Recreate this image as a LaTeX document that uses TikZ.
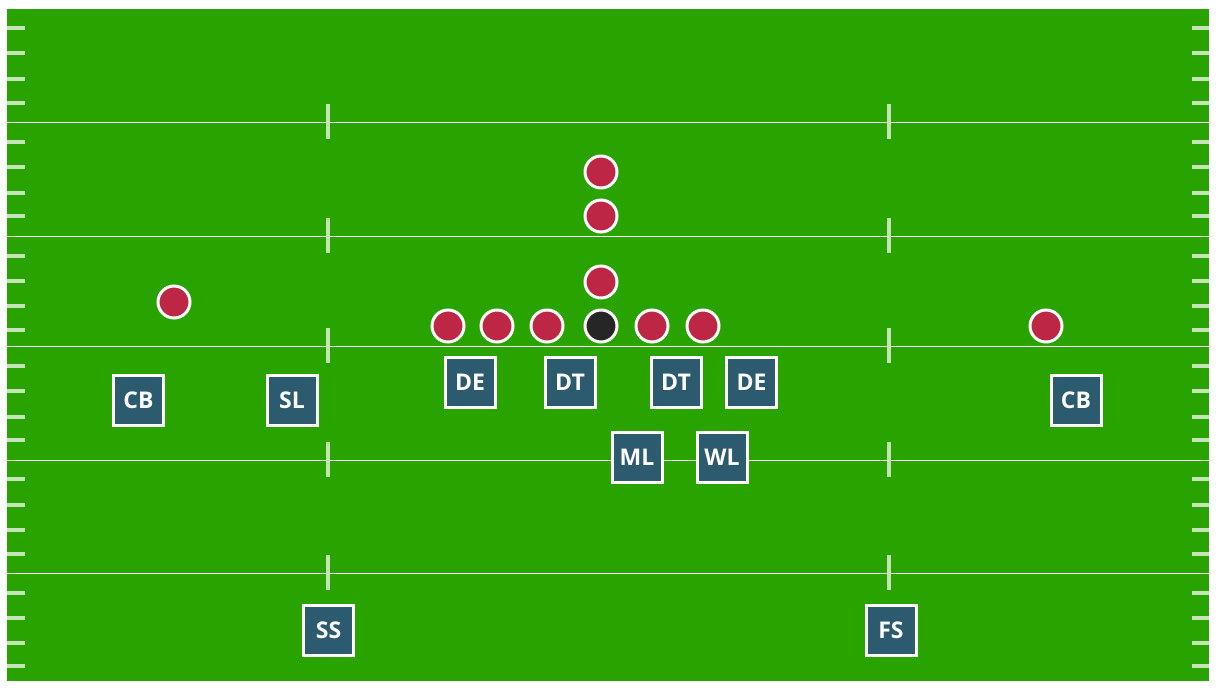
\documentclass[tikz,border=0pt]{standalone}
\usepackage{fontspec}
\setmainfont{Open Sans}
\definecolor{fieldgreen}{HTML}{29A300}
\definecolor{tickc}{HTML}{C4E6B4}
\definecolor{playerred}{HTML}{BE2646}
\definecolor{centerblack}{HTML}{262626}
\definecolor{defbox}{HTML}{2C5B70}
\tikzset{
  offense/.style={circle, fill=playerred, draw=white, line width=3pt, minimum size=32pt, inner sep=0pt},
  centerp/.style={offense, fill=centerblack},
  defense/.style={rectangle, fill=defbox, draw=white, line width=3pt, minimum width=50pt, minimum height=50pt, inner sep=0pt, text=white, font=\fontsize{23}{23}\selectfont\bfseries},
  yardline/.style={draw=white, line width=0.9pt},
  tick/.style={fill=tickc}
}
\begin{document}
\begin{tikzpicture}[x=1pt,y=-1pt]
\useasboundingbox (0,0) rectangle (1220,690);
\fill[white] (0,0) rectangle (1220,690);
\fill[fieldgreen] (7,9) rectangle (1209,681);
% side ticks
\foreach \y in {28,53,79,103,142,167,193,216,256,281,306,330,366,391,417,440,479,505,530,554,593,618,643,666} {
  \fill[tick] (7,\y-2) rectangle (25,\y+2);
  \fill[tick] (1192,\y-2) rectangle (1209,\y+2);
}
% yard lines
\foreach \y in {122,236,346,460,573} {
  \draw[yardline] (7,\y) -- (1209,\y);
  \foreach \x in {328,889} {
    \fill[tick] (\x-2,\y-18) rectangle (\x+2,\y+17);
  }
}
% offense
\node[offense] (o1) at (601,172) {};
\node[offense] (o2) at (601,216) {};
\node[offense] (o3) at (601,282) {};
\node[offense] (lt) at (448,326) {};
\node[offense] (lg) at (497,326) {};
\node[offense] (lgg) at (547,326) {};
\node[centerp] (c) at (601,326) {};
\node[offense] (rg) at (652,326) {};
\node[offense] (rt) at (703,326) {};
\node[offense] (wrl) at (174,302) {};
\node[offense] (wrr) at (1046,326) {};
% defense
\node[defense] (cbl) at (138.5,400.5) {CB};
\node[defense] (sl) at (292,400.5) {SL};
\node[defense] (de1) at (470,382) {DE};
\node[defense] (dt1) at (570,382) {DT};
\node[defense] (dt2) at (676,382) {DT};
\node[defense] (de2) at (751.5,382) {DE};
\node[defense] (cbr) at (1076,400.5) {CB};
\node[defense] (ml) at (637,457.5) {ML};
\node[defense] (wl) at (722,457.5) {WL};
\node[defense] (ss) at (328.5,630) {SS};
\node[defense] (fs) at (891,630) {FS};
\end{tikzpicture}
\end{document}
